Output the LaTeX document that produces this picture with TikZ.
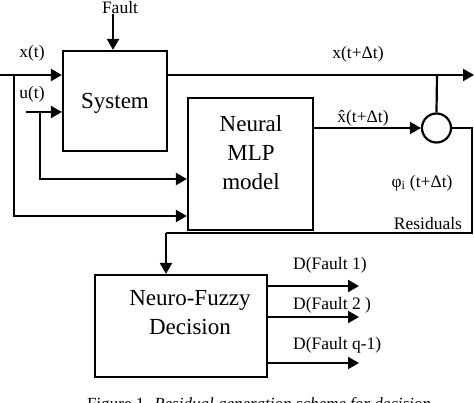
\documentclass[tikz,border=0pt]{standalone}
\usepackage{fontspec}
\setmainfont{Liberation Serif}
\usetikzlibrary{arrows.meta,calc}
\begin{document}
\begin{tikzpicture}[x=1pt,y=-1pt,
  ln/.style={line width=2.2pt},
  arr/.style={ln,-{Triangle[length=11pt,width=12pt]}},
  blk/.style={draw,line width=2.2pt,rectangle,inner sep=0pt},
  big/.style={font=\fontsize{23}{29}\selectfont,align=center,inner sep=0pt},
  lbl/.style={font=\fontsize{17.5}{20}\selectfont,inner sep=0pt}]
\useasboundingbox (0,0) rectangle (474,403);
\clip (0,0) rectangle (474,403);
% blocks
\node[blk,minimum width=104pt,minimum height=100pt] (sys) at (115,101) {};
\node[big] (systxt) at (115,103) {System};
\node[blk,minimum width=125pt,minimum height=132pt] (mlp) at (250.5,164) {};
\node[big] (mlptxt) at (251,153) {Neural\\MLP\\model};
\node[blk,minimum width=172pt,minimum height=102pt] (nf) at (181,326) {};
\node[big] (nftxt) at (190,313) {Neuro-Fuzzy\\Decision};
\node[draw,line width=2.2pt,circle,minimum size=29pt,inner sep=0pt] (sum) at (436.5,128) {};
% labels
\node[lbl] (fault) at (120,8) {Fault};
\node[lbl] (xt) at (32,53) {x(t)};
\node[lbl] (ut) at (32,94) {u(t)};
\node[lbl] (xout) at (358,54) {x(t+Δt)};
\node[lbl] (xhat) at (363,118) {\^{x}(t+Δt)};
\node[lbl] (phi) at (422,183) {φ\textsubscript{i} (t+Δt)};
\node[lbl] (res) at (428,224) {Residuals};
\node[lbl,anchor=west] (d1) at (293,265) {D(Fault 1)};
\node[lbl,anchor=west] (d2) at (293,305) {D(Fault 2 )};
\node[lbl,anchor=west] (d3) at (293,345) {D(Fault q-1)};
\node[font=\fontsize{17}{20}\selectfont,anchor=north west,inner sep=0pt] (cap) at (87,397) {Figure 1. \textit{Residual generation scheme for decision}};
% coordinates
\coordinate (ft) at (113,14);
\coordinate (xin) at (0,75);
\coordinate (xb) at (14,75);
\coordinate (xbl) at (14,216);
\coordinate (uin) at (26,112);
\coordinate (ub) at (40,112);
\coordinate (ubl) at (40,179);
\coordinate (xend) at (474,75);
\coordinate (j) at (437,75);
\coordinate (rc) at (472,128);
\coordinate (rb) at (472,233);
\coordinate (rl) at (166,233);
\coordinate (o1) at (359,286);
\coordinate (o2) at (359,317);
\coordinate (o3) at (359,363);
% connectors
\draw[arr] (ft) -- (ft |- sys.north);
\draw[arr] (xin) -- (sys.west |- xin);
\draw[arr] (xb) -- (xbl) -- (mlp.west |- xbl);
\draw[arr] (uin) -- (sys.west |- uin);
\draw[arr] (ub) -- (ubl) -- (mlp.west |- ubl);
\draw[arr] (sys.east |- xend) -- (xend);
\draw[ln] (j) -- (sum.north);
\draw[arr] (sum.west -| mlp.east) -- (sum.west);
\draw[ln] (sum.east) -- (rc) -- (rb) -- (rl) coordinate (rlc);
\draw[arr] (rl) -- (rl |- nf.north);
\draw[arr] (nf.east |- o1) -- (o1);
\draw[arr] (nf.east |- o2) -- (o2);
\draw[arr] (nf.east |- o3) -- (o3);
\end{tikzpicture}
\end{document}
